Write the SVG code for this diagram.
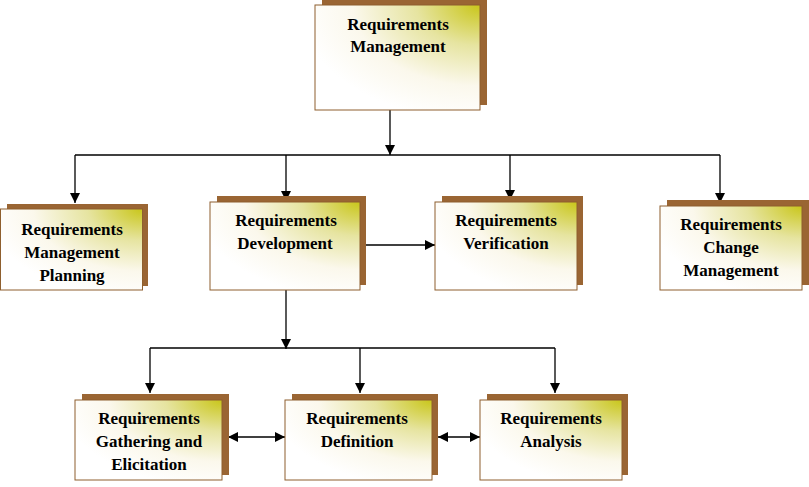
<svg xmlns="http://www.w3.org/2000/svg" width="809" height="487" viewBox="0 0 809 487">
<defs>
<radialGradient id="g" cx="1" cy="0" r="1.1" fx="1" fy="0">
<stop offset="0" stop-color="#c9c61a"/>
<stop offset="0.35" stop-color="#e6e4a0"/>
<stop offset="0.7" stop-color="#fbf8ec"/>
<stop offset="1" stop-color="#ffffff"/>
</radialGradient>
<marker id="a" viewBox="0 0 10 10" refX="10" refY="5" markerWidth="10" markerHeight="10" markerUnits="userSpaceOnUse" orient="auto-start-reverse">
<path d="M0,0 L10,5 L0,10 z" fill="#000"/>
</marker>
</defs>
<style>
.sh{fill:#9a6533}
.bx{fill:url(#g);stroke:#8e5f2e;stroke-width:1}
text{font-family:"Liberation Serif","Times New Roman",serif;font-weight:bold;font-size:17px;fill:#000;text-anchor:middle}
.c line,.c polyline{stroke:#000;stroke-width:1.3;fill:none}
</style>
<rect width="809" height="487" fill="#fff"/>
<g class="c">
<line x1="390" y1="110" x2="390" y2="155" marker-end="url(#a)"/>
<line x1="75" y1="155" x2="720" y2="155"/>
<line x1="75" y1="155" x2="75" y2="203" marker-end="url(#a)"/>
<line x1="286" y1="155" x2="286" y2="201" marker-end="url(#a)"/>
<line x1="510" y1="155" x2="510" y2="200" marker-end="url(#a)"/>
<line x1="720" y1="155" x2="720" y2="203" marker-end="url(#a)"/>
<line x1="360" y1="245" x2="435" y2="245" marker-end="url(#a)"/>
<line x1="286" y1="290" x2="286" y2="349" marker-end="url(#a)"/>
<line x1="150" y1="348" x2="555" y2="348"/>
<line x1="150" y1="348" x2="150" y2="393" marker-end="url(#a)"/>
<line x1="360" y1="348" x2="360" y2="393" marker-end="url(#a)"/>
<line x1="555" y1="348" x2="555" y2="393" marker-end="url(#a)"/>
<line x1="228" y1="437" x2="285" y2="437" marker-start="url(#a)" marker-end="url(#a)"/>
<line x1="438" y1="437" x2="480" y2="437" marker-start="url(#a)" marker-end="url(#a)"/>
</g>
<g id="rm"><rect class="sh" x="322" y="0" width="165" height="105"/><rect class="bx" x="315" y="5" width="165" height="105"/><text x="398" y="30">Requirements</text><text x="398" y="52">Management</text></g>
<g id="rmp"><rect class="sh" x="7" y="204" width="141" height="82"/><rect class="bx" x="0.5" y="209" width="142" height="81"/><text x="72" y="235">Requirements</text><text x="72" y="258">Management</text><text x="72" y="281">Planning</text></g>
<g id="rd"><rect class="sh" x="217" y="196" width="149" height="89"/><rect class="bx" x="210" y="202" width="150" height="88"/><text x="286" y="226">Requirements</text><text x="285" y="249">Development</text></g>
<g id="rv"><rect class="sh" x="442" y="196" width="141" height="89"/><rect class="bx" x="435" y="202" width="142" height="88"/><text x="506" y="226">Requirements</text><text x="506" y="249">Verification</text></g>
<g id="rcm"><rect class="sh" x="667" y="200" width="142" height="85"/><rect class="bx" x="660" y="206" width="142" height="84"/><text x="731" y="230">Requirements</text><text x="731" y="253">Change</text><text x="731" y="276">Management</text></g>
<g id="rge"><rect class="sh" x="82" y="394" width="147" height="81"/><rect class="bx" x="75" y="400" width="147" height="80"/><text x="149" y="424">Requirements</text><text x="149" y="447">Gathering and</text><text x="149" y="470">Elicitation</text></g>
<g id="rdef"><rect class="sh" x="292" y="394" width="146" height="81"/><rect class="bx" x="285" y="400" width="147" height="80"/><text x="357" y="424">Requirements</text><text x="357" y="447">Definition</text></g>
<g id="ra"><rect class="sh" x="487" y="394" width="141" height="81"/><rect class="bx" x="480" y="400" width="142" height="80"/><text x="551" y="424">Requirements</text><text x="551" y="447">Analysis</text></g>
</svg>
